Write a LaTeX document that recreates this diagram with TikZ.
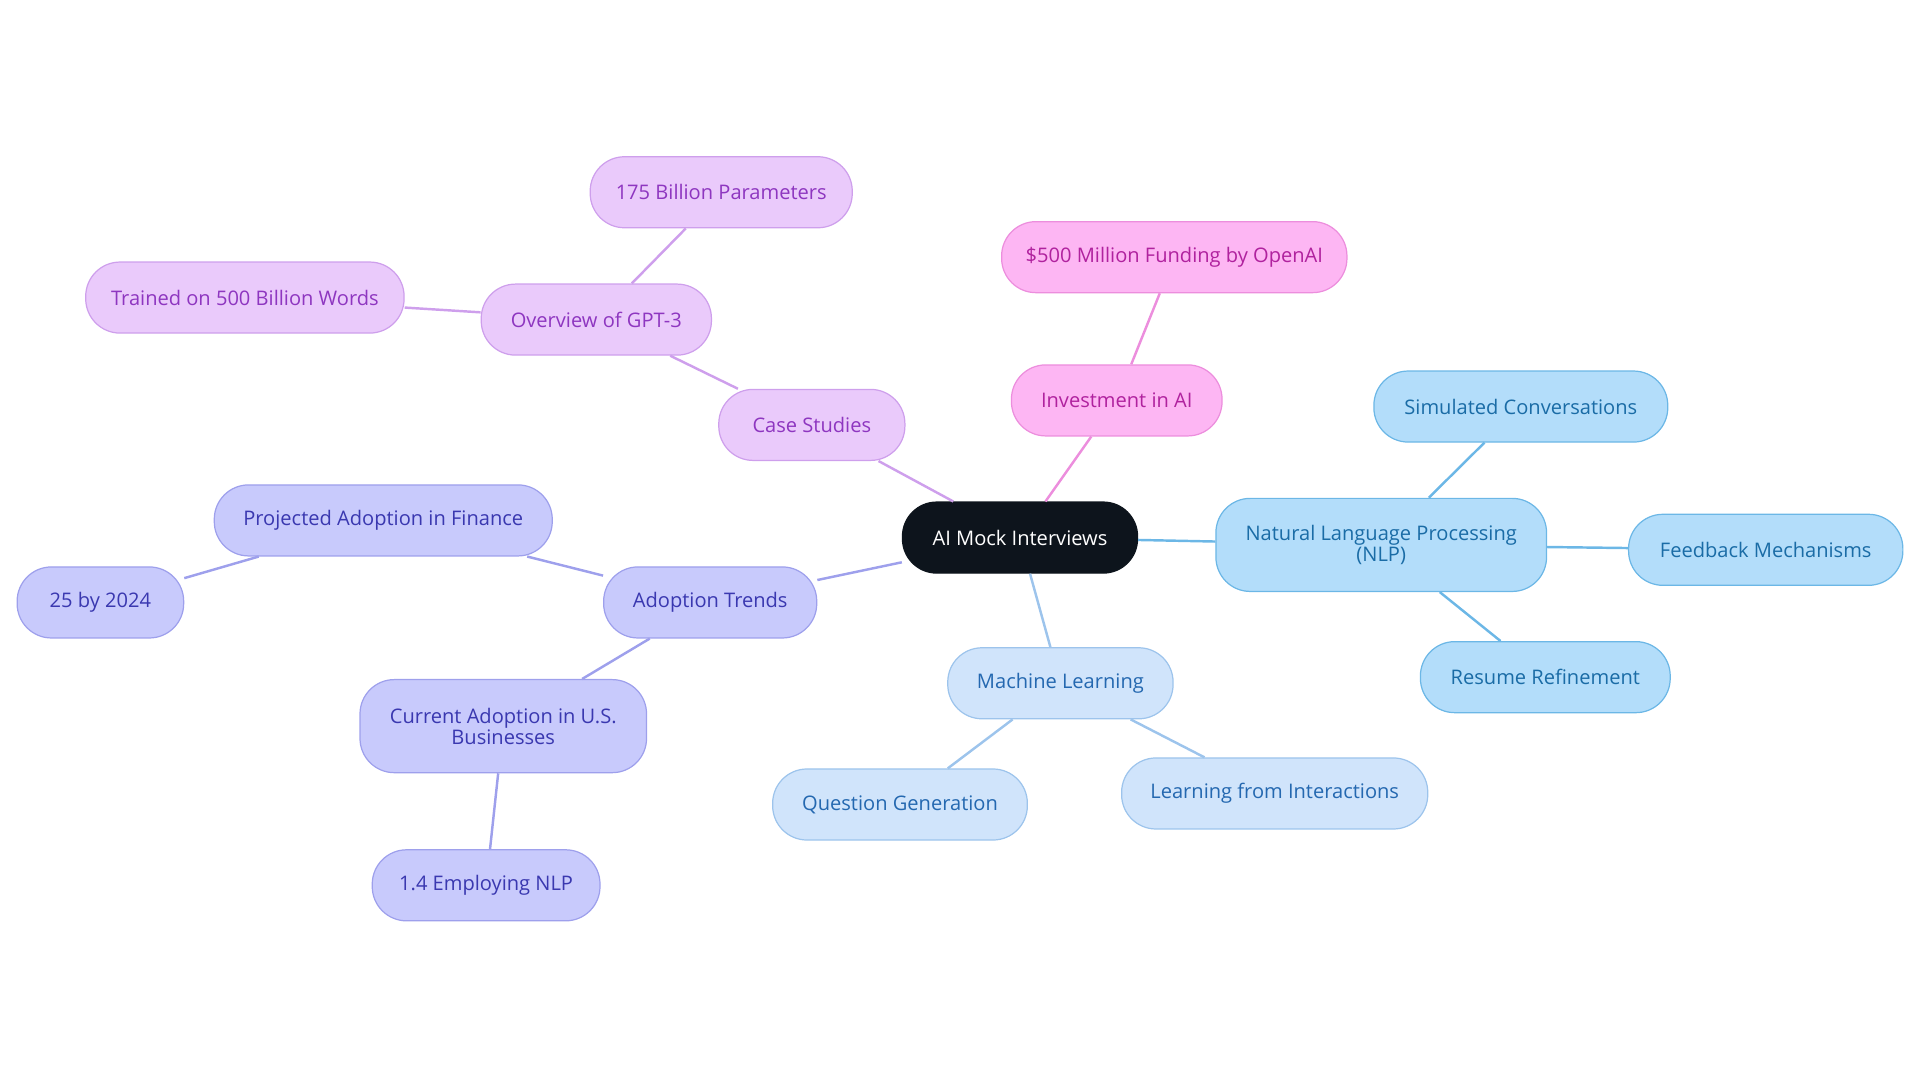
\documentclass[tikz,border=0pt]{standalone}
\usepackage{fontspec}
\setmainfont{Open Sans}
\definecolor{rootc}{HTML}{0D141C}
\definecolor{nlpF}{HTML}{B3DDFA}\definecolor{nlpD}{HTML}{6CB7E6}\definecolor{nlpT}{HTML}{1A6CA6}
\definecolor{mlF}{HTML}{D0E4FB}\definecolor{mlD}{HTML}{9DC4EC}\definecolor{mlT}{HTML}{2468B0}
\definecolor{invF}{HTML}{FDB6F3}\definecolor{invD}{HTML}{EC8EDD}\definecolor{invT}{HTML}{B0229E}
\definecolor{csF}{HTML}{EACAFB}\definecolor{csD}{HTML}{CE9FEC}\definecolor{csT}{HTML}{8E36C0}
\definecolor{adF}{HTML}{C8CAFC}\definecolor{adD}{HTML}{9EA0EC}\definecolor{adT}{HTML}{3A38B0}
\tikzset{
 box/.style={rounded corners=14pt,minimum height=29pt,inner sep=2pt,align=center,font=\fontsize{8.2}{8.5}\selectfont,line width=0.5pt},
 nlp/.style={box,fill=nlpF,draw=nlpD,text=nlpT},
 ml/.style={box,fill=mlF,draw=mlD,text=mlT},
 inv/.style={box,fill=invF,draw=invD,text=invT},
 cs/.style={box,fill=csF,draw=csD,text=csT},
 ad/.style={box,fill=adF,draw=adD,text=adT},
}
\begin{document}
\begin{tikzpicture}[x=0.5pt,y=-0.5pt]
\useasboundingbox (0,0) rectangle (1568,884);
\node[box,fill=rootc,draw=rootc,text=white,minimum width=96pt] (root) at (833,439) {AI Mock Interviews};
\node[nlp,minimum width=135pt,minimum height=38pt] (nlp) at (1128,445) {Natural Language Processing\\(NLP)};
\node[nlp,minimum width=120pt] (sim) at (1242,332) {Simulated Conversations};
\node[nlp,minimum width=112pt] (fb) at (1442,449) {Feedback Mechanisms};
\node[nlp,minimum width=102pt] (rr) at (1262,553) {Resume Refinement};
\node[ml,minimum width=92pt] (ml) at (866,558) {Machine Learning};
\node[ml,minimum width=104pt] (qg) at (735,657) {Question Generation};
\node[ml,minimum width=125pt] (lfi) at (1041,648) {Learning from Interactions};
\node[inv,minimum width=86pt] (inv) at (912,327) {Investment in AI};
\node[inv,minimum width=141pt] (fund) at (959,210) {\$500 Million Funding by OpenAI};
\node[cs,minimum width=76pt] (cs) at (663,347) {Case Studies};
\node[cs,minimum width=94pt] (gpt) at (487,261) {Overview of GPT-3};
\node[cs,minimum width=107pt] (bp) at (589,157) {175 Billion Parameters};
\node[cs,minimum width=130pt] (tr) at (200,243) {Trained on 500 Billion Words};
\node[ad,minimum width=87pt] (ad) at (580,492) {Adoption Trends};
\node[ad,minimum width=138pt] (pa) at (313,425) {Projected Adoption in Finance};
\node[ad,minimum width=68pt] (y25) at (82,492) {25 by 2024};
\node[ad,minimum width=117pt,minimum height=38pt] (ca) at (411,593) {Current Adoption in U.S.\\Businesses};
\node[ad,minimum width=93pt] (emp) at (397,723) {1.4 Employing NLP};
\begin{scope}[on background layer/.try,line width=1pt]
\end{scope}
\begin{scope}[line width=1pt]
\draw[nlpD] (root)--(nlp) (nlp)--(sim) (nlp)--(fb) (nlp)--(rr);
\draw[mlD] (root)--(ml) (ml)--(qg) (ml)--(lfi);
\draw[invD] (root)--(inv) (inv)--(fund);
\draw[csD] (root)--(cs) (cs)--(gpt) (gpt)--(bp) (gpt)--(tr);
\draw[adD] (root)--(ad) (ad)--(pa) (pa)--(y25) (ad)--(ca) (ca)--(emp);
\end{scope}
\end{tikzpicture}
\end{document}
